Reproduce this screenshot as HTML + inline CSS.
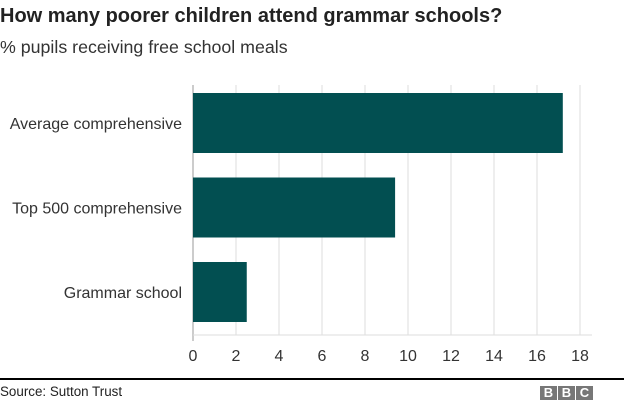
<!DOCTYPE html>
<html><head><meta charset="utf-8"><style>
body{margin:0;width:624px;height:403px;background:#fff;font-family:"Liberation Sans",Arial,sans-serif;overflow:hidden;position:relative}
.t{position:absolute;left:0;top:5px;font-size:20px;font-weight:bold;color:#222}
.s{position:absolute;left:0;top:37px;font-size:17.8px;color:#333}
.src{position:absolute;left:0;top:384px;font-size:13.4px;color:#222}
.sep{position:absolute;left:0;top:378px;width:624px;height:2px;background:#000}
.bbc{position:absolute;top:386px;display:flex;gap:1px;left:540px}
.bbc span{width:17px;height:14px;background:#777;color:#fff;font-weight:bold;font-size:13px;line-height:14px;text-align:center}
</style></head><body>
<div class="t">How many poorer children attend grammar schools?</div>
<div class="s">% pupils receiving free school meals</div>
<svg id="c" width="624" height="403" style="position:absolute;left:0;top:0"></svg>
<div class="sep"></div>
<div class="src">Source: Sutton Trust</div>
<div class="bbc"><span>B</span><span>B</span><span>C</span></div>
<script>
const categories=["Average comprehensive","Top 500 comprehensive","Grammar school"];
const values=[17.2,9.4,2.5];
const ticks=[0,2,4,6,8,10,12,14,16,18];
const svg=document.getElementById('c');
const NS='http://www.w3.org/2000/svg';
const x=v=>193+v*21.5;
const yTop=i=>93+i*84.5;
function mk(t,a){const e=document.createElementNS(NS,t);for(const k in a)e.setAttribute(k,a[k]);svg.appendChild(e);return e;}
ticks.forEach(t=>{
 const g=mk('line',{x1:x(t),x2:x(t),y1:85,y2:t===0?341:335,stroke:t===0?'#999':'#ddd','stroke-width':1});
 
 
 const l=mk('text',{x:x(t),y:361,'text-anchor':'middle','font-size':16,fill:'#333','font-family':'Liberation Sans, Arial, sans-serif'});
 l.textContent=t;
 
 
});
const ax=mk('line',{x1:193,x2:592,y1:335,y2:335,stroke:'#ddd','stroke-width':1});


categories.forEach((c,i)=>{
 const r=mk('rect',{x:x(0),y:yTop(i),width:x(values[i])-x(0),height:60,fill:'#024f51'});
 
 
 const l=mk('text',{x:182,y:yTop(i)+36,'text-anchor':'end','font-size':16,fill:'#333','font-family':'Liberation Sans, Arial, sans-serif'});
 l.textContent=c;
 
 
});
</script>
</body></html>
